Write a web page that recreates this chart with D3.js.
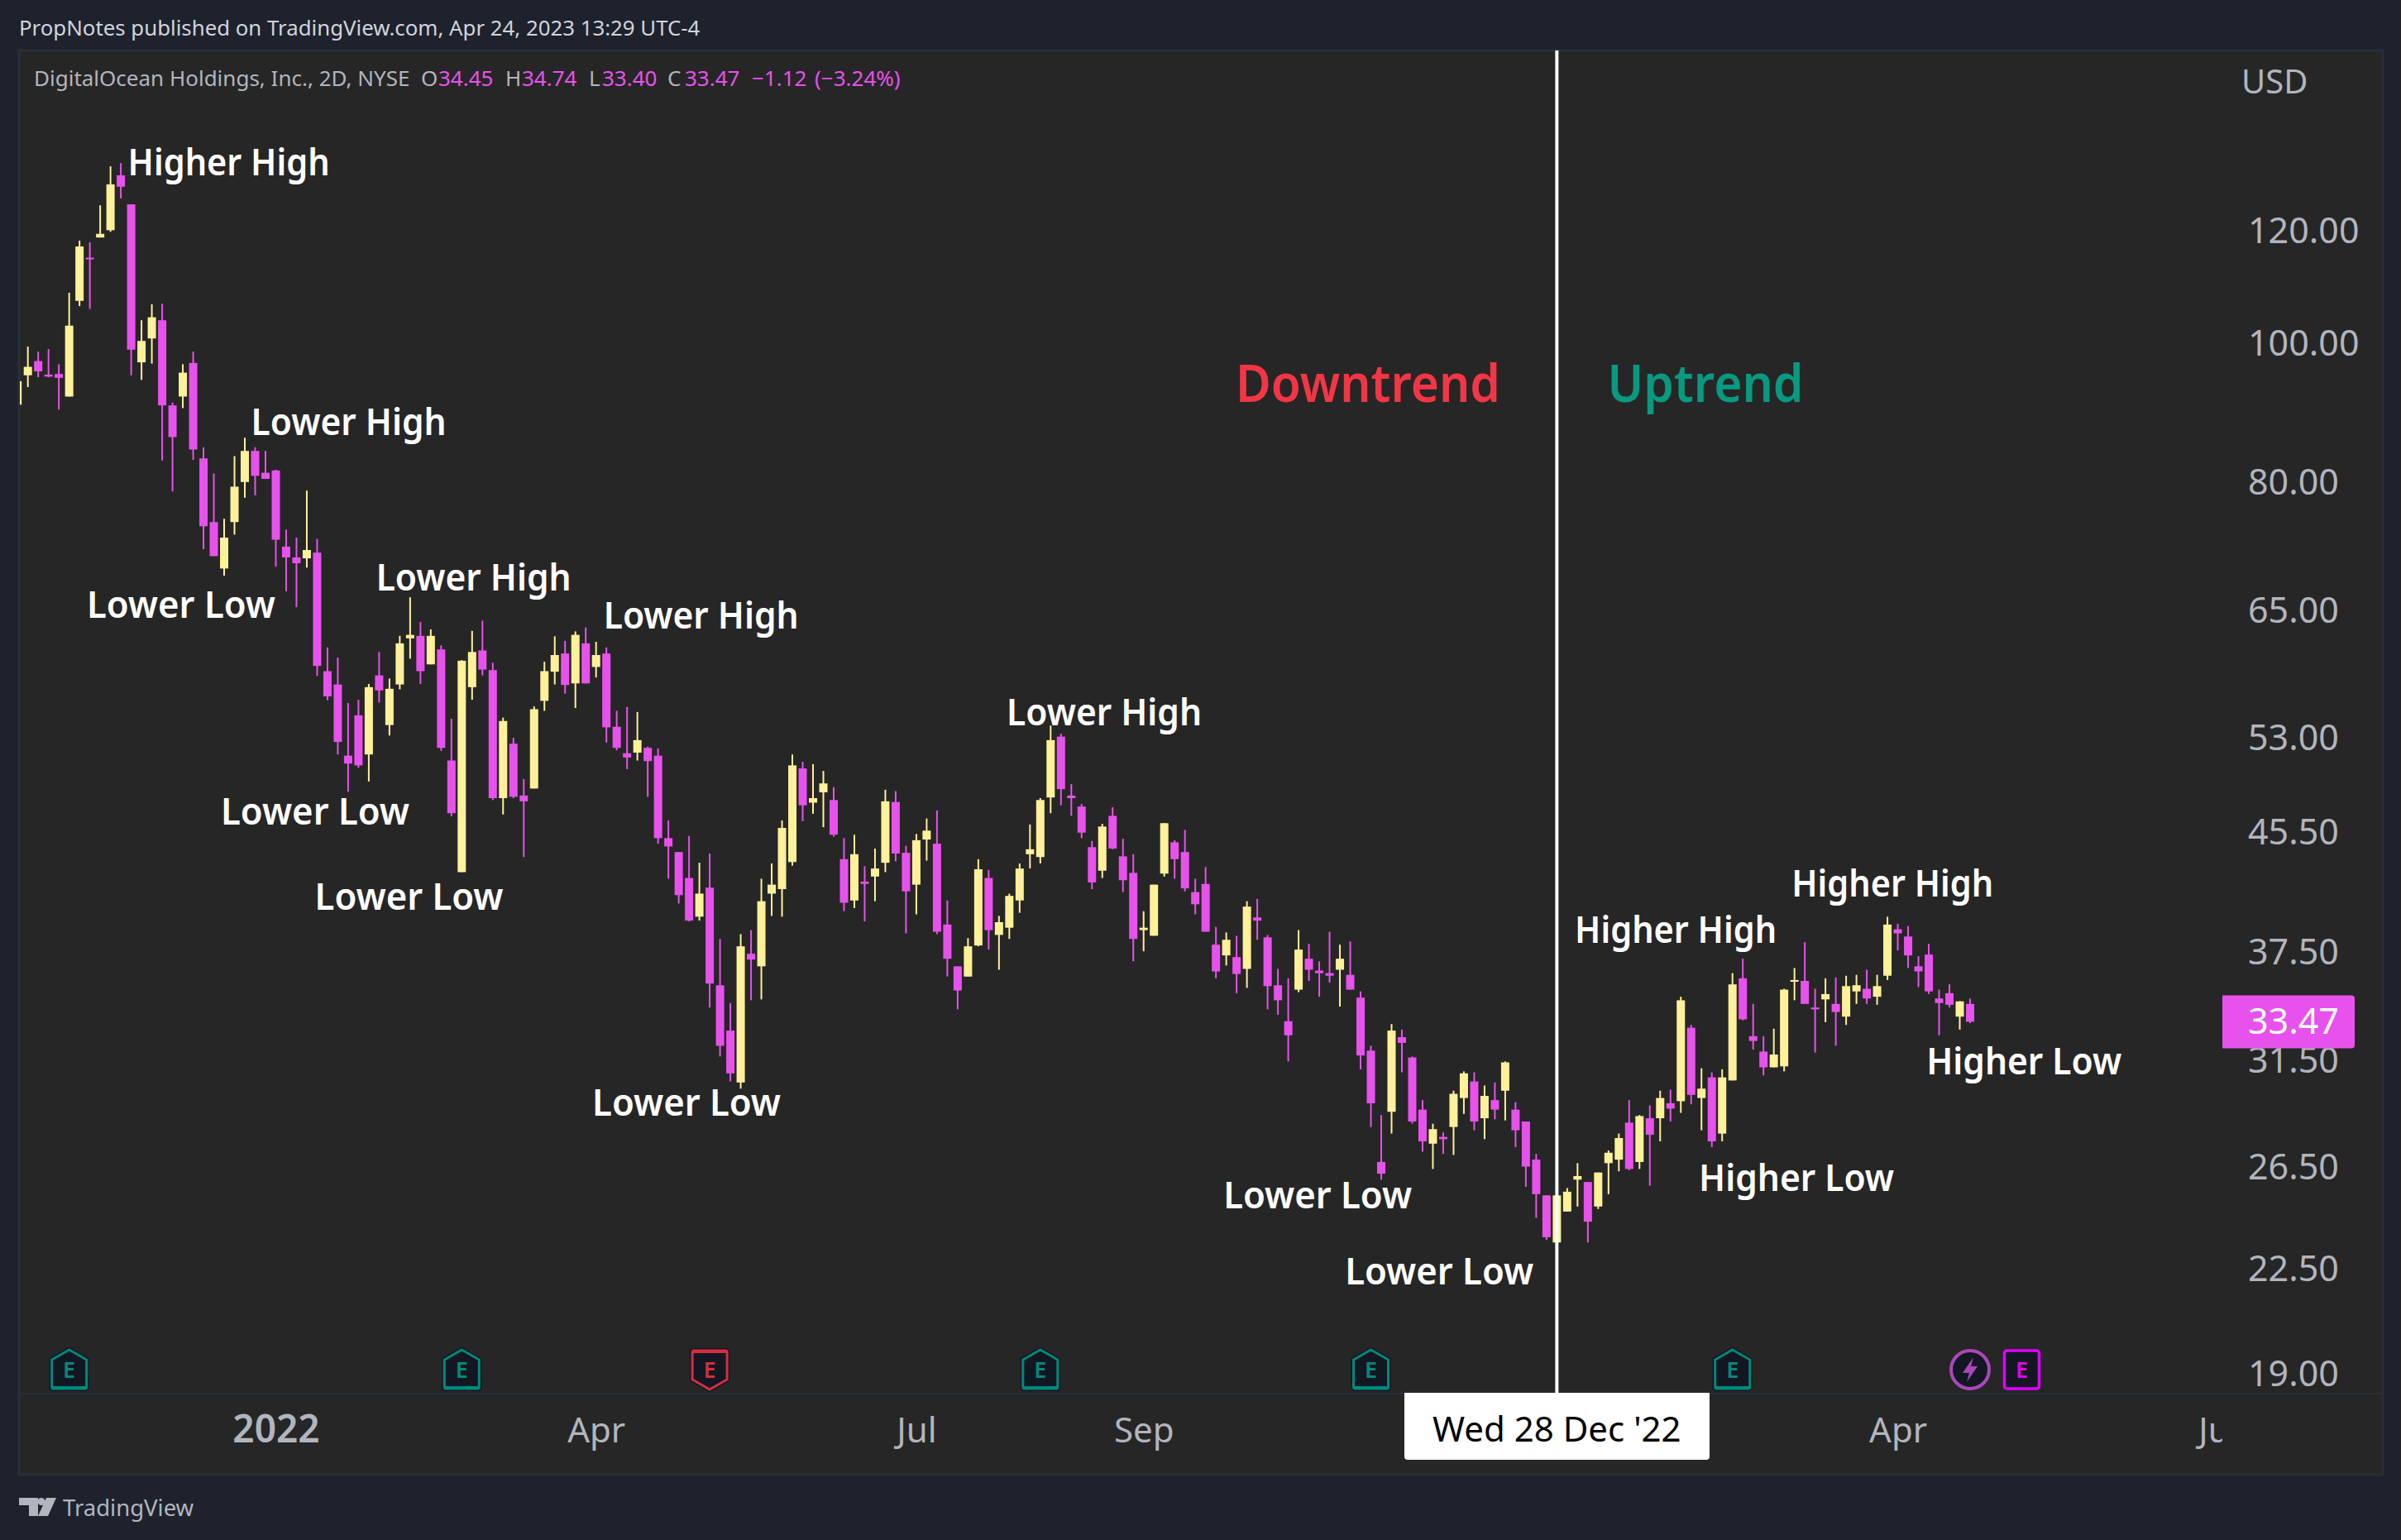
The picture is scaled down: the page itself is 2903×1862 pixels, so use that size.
<!DOCTYPE html>
<html>
<head>
<meta charset="utf-8">
<script src="https://cdn.jsdelivr.net/npm/d3@7"></script>
<style>
    html, body { margin: 0; padding: 0; background: #1e222d; }
    svg { display: block; }
    text { font-family: "Noto Sans", sans-serif; }
</style>
</head>
<body>
<div id="chart"></div>
<script>
// Two-day candles, DigitalOcean Holdings
const opens = [
    90.5, 94.9, 97.1, 95.0, 95.1, 91.7, 107.0, 114.7, 118.5, 119.9,
    131.0, 125.0, 96.9, 100.7, 103.7, 90.4, 91.7, 96.8, 83.0, 74.9,
    69.5, 74.9, 79.9, 84.0, 81.1, 81.4, 72.0, 70.75, 70.65, 71.3,
    58.9, 57.65, 51.4, 54.85, 51.5, 58.5, 54.0, 57.65, 62.1, 62.35,
    59.55, 61.0, 51.0, 42.6, 57.4, 60.9, 59.0, 48.0, 52.4, 48.2,
    48.75, 56.15, 58.85, 60.6, 57.75, 61.6, 59.3, 60.6, 53.85, 51.6,
    51.65, 52.05, 51.4, 45.0, 44.0, 42.2, 39.65, 41.55, 35.5, 33.0,
    30.35, 37.35, 36.6, 41.15, 41.45, 43.3, 50.35, 47.65, 48.45, 47.85,
    43.5, 40.7, 41.95, 42.3, 43.25, 47.7, 43.95, 41.75, 44.9, 44.6,
    39.15, 36.6, 36.0, 37.85, 42.2, 38.5, 38.95, 40.7, 43.85, 43.65,
    48.05, 53.0, 48.2, 47.35, 44.35, 42.7, 46.65, 43.7, 42.55, 38.8,
    38.45, 42.5, 44.7, 44.0, 41.25, 41.8, 37.9, 37.25, 37.15, 36.45,
    39.6, 38.35, 35.5, 33.5, 35.25, 37.05, 36.35, 36.2, 36.4, 36.1,
    34.8, 31.95, 26.7, 28.95, 32.65, 31.6, 29.05, 27.5, 27.8, 28.25,
    29.6, 30.4, 28.65, 29.5, 29.95, 29.05, 28.5, 26.8, 25.3, 23.45,
    24.65, 25.95, 25.85, 24.85, 26.65, 26.8, 28.45, 26.7, 28.65, 28.65,
    29.35, 29.45, 33.15, 29.6, 30.6, 27.95, 30.45, 35.9, 32.7, 31.9,
    31.1, 31.15, 35.7, 35.75, 34.25, 34.7, 34.45, 33.75, 35.15, 35.3,
    34.85, 36.05, 38.85, 38.4, 36.6, 37.3, 34.75, 35.05, 33.75, 34.45
];
const highs = [
    94.0, 99.4, 98.6, 99.0, 96.6, 108.4, 117.9, 117.6, 124.8, 132.9,
    133.6, 125.0, 103.7, 106.4, 106.5, 90.8, 96.6, 98.6, 84.5, 81.0,
    75.3, 83.3, 85.8, 84.5, 84.0, 81.5, 74.0, 73.05, 78.8, 72.9,
    61.2, 60.2, 55.95, 56.25, 57.7, 60.75, 58.2, 62.35, 66.35, 63.75,
    63.0, 61.4, 54.55, 59.95, 62.85, 63.9, 59.7, 54.65, 52.9, 49.5,
    55.65, 59.8, 62.3, 61.85, 62.8, 63.2, 61.75, 61.2, 55.25, 55.6,
    55.15, 52.15, 52.0, 46.3, 44.0, 45.15, 43.25, 43.9, 38.25, 34.5,
    38.55, 38.8, 42.15, 43.2, 46.3, 51.5, 50.9, 50.7, 50.15, 48.85,
    45.0, 45.25, 43.0, 44.25, 48.65, 48.55, 44.45, 45.3, 46.45, 47.05,
    40.7, 36.6, 38.3, 43.5, 42.75, 39.7, 41.15, 43.2, 46.0, 48.0,
    53.95, 53.25, 49.1, 47.55, 44.8, 46.05, 47.3, 44.95, 43.85, 40.0,
    41.75, 46.1, 44.85, 45.6, 42.15, 42.95, 39.0, 38.65, 38.45, 40.65,
    40.8, 38.5, 36.45, 35.9, 38.8, 37.95, 36.9, 38.7, 37.9, 38.1,
    35.15, 32.2, 28.8, 33.35, 33.05, 31.65, 29.5, 28.4, 28.0, 29.95,
    30.9, 30.85, 30.2, 30.35, 31.4, 29.4, 28.5, 27.05, 25.3, 25.3,
    25.6, 26.65, 25.85, 26.25, 27.2, 27.95, 29.5, 28.8, 29.25, 29.95,
    30.0, 34.85, 33.3, 31.05, 30.85, 31.0, 36.2, 37.05, 34.45, 32.7,
    33.1, 35.3, 36.5, 38.05, 35.3, 35.9, 35.95, 36.05, 36.1, 36.4,
    36.1, 39.65, 39.2, 39.05, 37.2, 37.95, 35.25, 35.55, 34.6, 34.74
];
const lows = [
    90.5, 93.1, 94.6, 94.6, 89.8, 91.7, 106.1, 105.6, 118.5, 119.6,
    126.2, 94.9, 94.2, 96.7, 82.7, 78.7, 90.0, 82.8, 71.7, 70.9,
    68.7, 73.4, 77.9, 78.2, 80.3, 69.7, 67.0, 65.3, 69.6, 58.45,
    56.2, 51.5, 48.5, 50.4, 49.3, 56.0, 53.1, 57.2, 60.1, 57.7,
    59.55, 51.8, 46.6, 42.6, 56.25, 58.5, 47.85, 46.75, 48.0, 43.65,
    48.75, 55.25, 57.65, 56.8, 55.5, 57.75, 58.3, 52.5, 51.85, 50.3,
    51.0, 48.1, 44.6, 42.15, 40.5, 39.35, 39.4, 34.25, 31.65, 30.4,
    30.05, 34.65, 34.7, 39.7, 39.65, 43.05, 46.25, 46.8, 45.8, 45.1,
    40.0, 40.2, 39.35, 40.65, 42.6, 43.35, 38.6, 39.8, 43.4, 38.55,
    36.0, 34.15, 36.0, 37.8, 37.6, 36.4, 38.25, 39.9, 42.85, 43.2,
    46.85, 47.45, 46.65, 45.0, 41.45, 42.2, 44.2, 41.25, 36.9, 37.5,
    38.45, 42.3, 42.15, 41.3, 39.8, 38.7, 35.9, 36.65, 35.05, 35.35,
    38.2, 34.15, 33.85, 31.4, 35.1, 35.75, 34.85, 35.65, 34.3, 35.25,
    31.0, 28.25, 25.95, 27.95, 30.85, 28.4, 27.15, 26.4, 27.05, 27.0,
    28.85, 28.1, 27.7, 28.6, 28.55, 27.35, 25.65, 24.4, 23.55, 23.35,
    24.65, 24.85, 23.45, 24.75, 25.35, 26.3, 26.35, 26.4, 25.7, 27.6,
    28.5, 28.9, 29.3, 28.1, 27.35, 27.6, 30.45, 33.55, 32.0, 30.7,
    31.1, 30.9, 34.65, 34.45, 31.85, 33.45, 32.2, 33.3, 34.45, 34.45,
    34.4, 35.8, 37.55, 36.5, 35.4, 35.0, 32.75, 34.25, 33.05, 33.4
];
const closes = [
    94.0, 96.2, 95.5, 94.7, 94.5, 102.8, 116.8, 114.4, 119.2, 129.1,
    128.6, 98.9, 100.3, 104.2, 90.4, 85.9, 95.3, 84.2, 74.4, 70.9,
    73.05, 79.3, 84.0, 80.7, 80.3, 72.8, 70.75, 70.1, 71.6, 59.4,
    56.55, 52.55, 50.75, 50.6, 57.4, 57.1, 57.25, 61.6, 62.45, 58.9,
    62.35, 52.05, 46.85, 59.9, 60.75, 59.05, 48.0, 54.35, 48.1, 47.75,
    55.4, 58.9, 60.45, 57.6, 62.45, 57.75, 60.45, 53.8, 52.05, 51.25,
    52.7, 50.95, 45.0, 44.4, 41.05, 39.4, 41.15, 35.6, 32.2, 30.8,
    37.8, 37.0, 40.65, 41.75, 45.75, 50.6, 47.45, 48.0, 49.15, 45.25,
    40.55, 43.85, 41.8, 42.85, 47.75, 43.9, 41.3, 44.85, 45.55, 38.7,
    37.05, 35.2, 37.8, 42.8, 38.8, 39.3, 41.0, 42.85, 44.2, 47.85,
    52.7, 48.7, 48.0, 45.4, 41.9, 45.85, 44.25, 42.05, 38.25, 38.95,
    41.75, 46.1, 43.5, 41.5, 40.45, 38.7, 36.3, 38.2, 36.15, 40.3,
    39.4, 35.45, 34.65, 32.75, 37.6, 36.4, 36.2, 36.05, 37.05, 35.25,
    31.7, 29.35, 26.2, 33.0, 32.35, 28.5, 27.6, 28.15, 27.7, 29.8,
    30.8, 28.5, 29.7, 29.05, 31.35, 28.1, 26.5, 25.35, 23.65, 25.3,
    25.45, 26.1, 24.25, 26.25, 27.1, 27.75, 26.4, 28.75, 27.9, 29.6,
    29.1, 34.65, 29.75, 30.05, 27.6, 30.6, 35.55, 33.6, 32.45, 31.1,
    31.75, 35.25, 35.8, 34.45, 34.15, 35.0, 34.0, 35.45, 35.5, 34.75,
    35.45, 39.15, 38.6, 37.25, 36.3, 35.15, 34.5, 34.4, 34.59, 33.47
];

const priceTicks = [120, 100, 80, 65, 53, 45.5, 37.5, 31.5, 26.5, 22.5, 19];
const timeTickBars = [25, 56, 87, 109, 182, 213];
const timeTickLabels = ["2022", "Apr", "Jul", "Sep", "Apr", "Jul"];

// Annotations, anchored at their bar and price
const noteTexts = ["Higher High", "Lower High", "Lower Low", "Lower High", "Lower High", "Lower Low", "Lower Low", "Lower Low",
    "Lower High", "Lower Low", "Lower Low", "Higher High", "Higher High", "Higher Low", "Higher Low"];
const noteBars = [10.68, 22.61, 6.71, 34.7, 56.72, 19.68, 28.77, 55.63, 95.74, 116.72, 128.49, 150.74, 171.72, 162.75, 184.77];
const notePrices = [131.0, 86.2, 64.2, 67.1, 63.1, 46.0, 40.1, 28.77, 53.95, 24.77, 21.92, 38.0, 40.95, 25.47, 30.77];

const trendTexts = ["Downtrend", "Uptrend"];
const trendBars = [117.9, 153.9];
const trendPrice = 90.9;

// Event markers along the bottom of the pane
const earningsBars = [5, 43, 67, 99, 131, 166];
const earningsBeat = [true, true, false, true, true, true];
const dividendBar = 189;
const nextEarningsBar = 194;

const crosshairBar = 149;
const crosshairLabel = "Wed 28 Dec '22";
const lastPrice = 33.47;

const UP_COLOR = "#fff09a";
const DOWN_COLOR = "#e752ec";
const PAGE_BG = "#1e222d";
const PANE_BG = "#262626";
const BORDER = "#2a2e39";
const AXIS_TEXT = "#b2b5be";

const width = 2903, height = 1862;
const paneLeft = 23, paneRight = 2881, paneTop = 61, paneBottom = 1685, paneEnd = 1783;
const axisLeftEdge = 2687;

// The reference font runs narrower than Noto Sans, so these strings are squeezed to its widths
const noteWidths = { "Higher High": 244, "Lower High": 236, "Lower Low": 228, "Higher Low": 236 };
const trendWidths = { "Downtrend": 320, "Uptrend": 237 };

const x = d3.scaleLinear().domain([0, 189]).range([21.2, 2382]);
const y = d3.scaleLog().domain([160.2, 18.38]).range([paneTop, paneBottom]);

const svg = d3.select("#chart").append("svg")
    .attr("width", width)
    .attr("height", height);

const defs = svg.append("defs");
defs.append("clipPath").attr("id", "pane-clip").append("rect")
    .attr("x", paneLeft + 1).attr("y", paneTop)
    .attr("width", paneRight - paneLeft).attr("height", paneBottom - paneTop);
defs.append("clipPath").attr("id", "time-clip").append("rect")
    .attr("x", paneLeft).attr("y", paneBottom)
    .attr("width", axisLeftEdge - paneLeft).attr("height", paneEnd - paneBottom);

svg.append("rect").attr("width", width).attr("height", height).attr("fill", PAGE_BG);
svg.append("rect")
    .attr("x", paneLeft).attr("y", paneTop)
    .attr("width", paneRight - paneLeft).attr("height", paneEnd - paneTop)
    .attr("fill", PANE_BG)
    .attr("stroke", BORDER)
    .attr("stroke-width", 3);
svg.append("line")
    .attr("x1", paneLeft).attr("x2", paneRight)
    .attr("y1", paneBottom).attr("y2", paneBottom)
    .attr("stroke", BORDER)
    .attr("stroke-width", 2);

// Header lines
svg.append("text")
    .attr("x", 23).attr("y", 43)
    .attr("font-size", 25.8)
    .attr("fill", "#d1d4dc")
    .text("PropNotes published on TradingView.com, Apr 24, 2023 13:29 UTC-4");

const legendTexts = ["DigitalOcean Holdings, Inc., 2D, NYSE", "O", "34.45", "H", "34.74", "L", "33.40", "C", "33.47", "\u22121.12", "(\u22123.24%)"];
const legendStarts = [41, 509, 530, 611, 631, 712, 728, 807, 828, 909, 985];
const legendColored = [false, false, true, false, true, false, true, false, true, true, true];
svg.append("g").selectAll("text")
    .data(legendTexts)
    .enter().append("text")
    .attr("x", (d, i) => legendStarts[i])
    .attr("y", 104)
    .attr("font-size", 26)
    .attr("fill", (d, i) => legendColored[i] ? DOWN_COLOR : AXIS_TEXT)
    .text(d => d);

// Candles
const candles = d3.range(opens.length).map(i => ({ i: i, o: opens[i], h: highs[i], l: lows[i], c: closes[i] }));
const candleColor = d => d.c >= d.o ? UP_COLOR : DOWN_COLOR;
const candleLayer = svg.append("g").attr("clip-path", "url(#pane-clip)");

candleLayer.selectAll("line.wick")
    .data(candles)
    .enter().append("line")
    .attr("class", "wick")
    .attr("x1", d => x(d.i))
    .attr("x2", d => x(d.i))
    .attr("y1", d => y(d.h))
    .attr("y2", d => y(d.l))
    .attr("stroke", candleColor)
    .attr("stroke-width", 2);

candleLayer.selectAll("rect.body")
    .data(candles)
    .enter().append("rect")
    .attr("class", "body")
    .attr("x", d => x(d.i) - 5)
    .attr("width", 10)
    .attr("y", d => y(Math.max(d.o, d.c)))
    .attr("height", d => Math.max(2, Math.abs(y(d.o) - y(d.c))))
    .attr("fill", candleColor);

// Price axis, labels start at the same x
const priceAxis = d3.axisRight(y)
    .tickValues(priceTicks)
    .tickSize(0)
    .tickPadding(0)
    .tickFormat(d3.format(".2f"));
const priceG = svg.append("g").attr("transform", "translate(2718,0)").call(priceAxis);
priceG.select(".domain").remove();
priceG.selectAll("text")
    .attr("dy", "0.357em")
    .attr("font-size", 43)
    .attr("fill", AXIS_TEXT)
    .attr("font-family", "\"Noto Sans\", sans-serif");

svg.append("text")
    .attr("x", 2710).attr("y", 113)
    .attr("font-size", 40)
    .attr("fill", AXIS_TEXT)
    .text("USD");

// Time axis, the last label is cut where the price scale begins
const timeAxis = d3.axisBottom(x)
    .tickValues(timeTickBars)
    .tickSize(0)
    .tickPadding(0)
    .tickFormat((d, i) => timeTickLabels[i]);
const timeG = svg.append("g").attr("clip-path", "url(#time-clip)")
    .append("g").attr("transform", "translate(0,1744)").call(timeAxis);
timeG.select(".domain").remove();
timeG.selectAll("text")
    .attr("y", 0)
    .attr("dy", 0)
    .attr("font-size", d => d === 25 ? 46 : 42)
    .attr("font-weight", d => d === 25 ? 600 : 400)
    .attr("fill", AXIS_TEXT)
    .attr("font-family", "\"Noto Sans\", sans-serif");

// Event markers
const markerY = 1656;
function markerLetter(g, color) {
    g.append("text")
        .attr("y", 10)
        .attr("text-anchor", "middle")
        .attr("font-size", 27)
        .attr("font-weight", 600)
        .attr("fill", color)
        .text("E");
}
const markers = svg.append("g");
earningsBars.forEach((bar, i) => {
    const color = earningsBeat[i] ? "#00897b" : "#d32f3f";
    const flip = earningsBeat[i] ? 1 : -1;
    const g = markers.append("g").attr("transform", `translate(${x(bar)},${markerY})`);
    const shape = `M0,${-24 * flip}L21,${-12 * flip}L21,${21 * flip}Q21,${23 * flip} 19,${23 * flip}L-19,${23 * flip}Q-21,${23 * flip} -21,${21 * flip}L-21,${-12 * flip}Z`;
    g.append("path").attr("d", shape).attr("fill", "#131722").attr("stroke", "#131722").attr("stroke-width", 6).attr("stroke-linejoin", "round");
    g.append("path").attr("d", shape).attr("fill", "#131722").attr("stroke", color).attr("stroke-width", 3);
    g.append("line").attr("x1", -20).attr("x2", 20).attr("y1", 21.5 * flip).attr("y2", 21.5 * flip).attr("stroke", color).attr("stroke-width", 3);
    markerLetter(g, color);
});

const dividend = markers.append("g").attr("transform", `translate(${x(dividendBar)},${markerY})`);
dividend.append("circle").attr("r", 23).attr("fill", "#131722").attr("stroke", "#ab47bc").attr("stroke-width", 4);
dividend.append("path").attr("d", "M4,-15L-9,4L-1,4L-4,15L9,-4L1,-4Z").attr("fill", "#ab47bc");

const nextEarnings = markers.append("g").attr("transform", `translate(${x(nextEarningsBar)},${markerY})`);
nextEarnings.append("rect")
    .attr("x", -21).attr("y", -23).attr("width", 42).attr("height", 46).attr("rx", 3)
    .attr("fill", "#131722")
    .attr("stroke", "#e100ff")
    .attr("stroke-width", 3.5);
markerLetter(nextEarnings, "#e100ff");

// Crosshair and its date label
svg.append("line")
    .attr("x1", x(crosshairBar)).attr("x2", x(crosshairBar))
    .attr("y1", paneTop).attr("y2", paneBottom)
    .attr("stroke", "#ffffff")
    .attr("stroke-width", 4);
const labelRight = 2067, labelLeft = 1698, labelTop = 1684, labelBottom = 1765;
svg.append("path")
    .attr("d", `M${labelLeft},${labelTop}L${labelRight},${labelTop}L${labelRight},${labelBottom - 4}Q${labelRight},${labelBottom} ${labelRight - 4},${labelBottom}L${labelLeft + 4},${labelBottom}Q${labelLeft},${labelBottom} ${labelLeft},${labelBottom - 4}Z`)
    .attr("fill", "#ffffff");
svg.append("text")
    .attr("x", x(crosshairBar)).attr("y", 1743)
    .attr("text-anchor", "middle")
    .attr("font-size", 42)
    .attr("fill", "#000000")
    .text(crosshairLabel);

// Last price tag
const tagTop = y(lastPrice) - 32, tagBottom = y(lastPrice) + 32, tagRight = 2847;
svg.append("path")
    .attr("d", `M${axisLeftEdge},${tagTop}L${tagRight - 4},${tagTop}Q${tagRight},${tagTop} ${tagRight},${tagTop + 4}L${tagRight},${tagBottom - 4}Q${tagRight},${tagBottom} ${tagRight - 4},${tagBottom}L${axisLeftEdge},${tagBottom}Z`)
    .attr("fill", DOWN_COLOR);
svg.append("text")
    .attr("x", 2718).attr("y", y(lastPrice) + 15)
    .attr("font-size", 43)
    .attr("fill", "#ffffff")
    .text(lastPrice.toFixed(2));

// Annotations
svg.append("g").selectAll("text")
    .data(noteTexts)
    .enter().append("text")
    .attr("x", (d, i) => x(noteBars[i]))
    .attr("y", (d, i) => y(notePrices[i]))
    .attr("font-size", 45)
    .attr("font-weight", 600)
    .attr("textLength", d => noteWidths[d])
    .attr("lengthAdjust", "spacingAndGlyphs")
    .attr("fill", "#ffffff")
    .text(d => d);

svg.append("g").selectAll("text")
    .data(trendTexts)
    .enter().append("text")
    .attr("x", (d, i) => x(trendBars[i]))
    .attr("y", y(trendPrice))
    .attr("font-size", 63)
    .attr("font-weight", 600)
    .attr("textLength", d => trendWidths[d])
    .attr("lengthAdjust", "spacingAndGlyphs")
    .attr("fill", (d, i) => i === 0 ? "#f23645" : "#089981")
    .text(d => d);

// Logo and site name
svg.append("path")
    .attr("d", "M23,1811H46V1833H35V1820H23Z M50,1811A4.5,4.5 0 1 1 49.9,1811Z M56,1811H68L58,1833H46Z")
    .attr("fill", AXIS_TEXT);
svg.append("text")
    .attr("x", 76).attr("y", 1833)
    .attr("font-size", 27.5)
    .attr("fill", AXIS_TEXT)
    .text("TradingView");
</script>
</body>
</html>
